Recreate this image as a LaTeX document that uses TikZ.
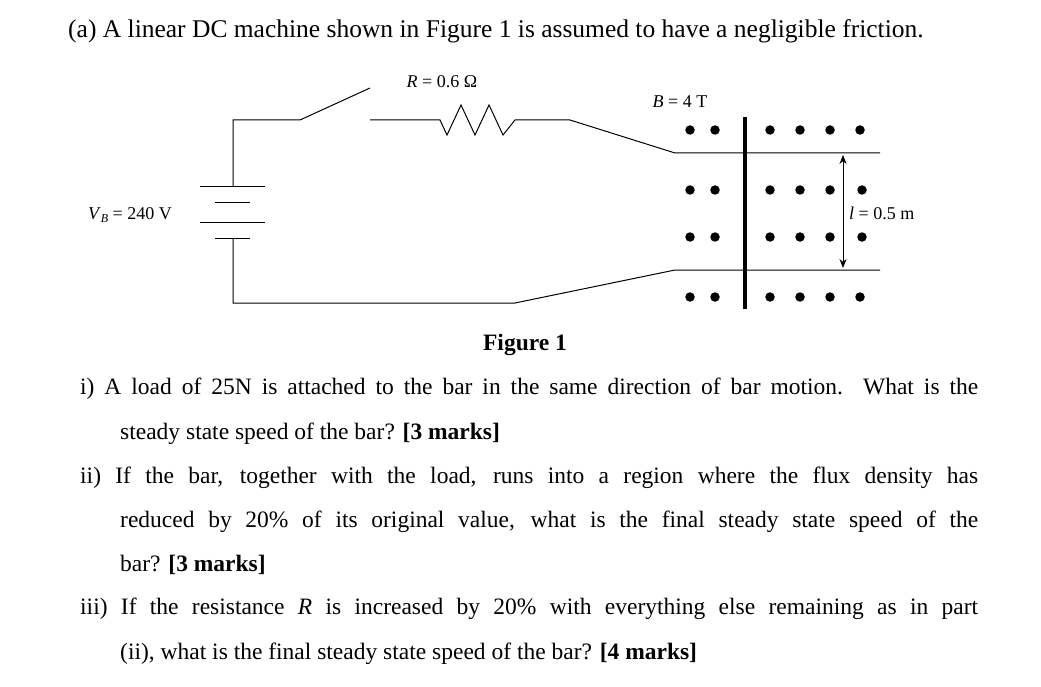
\documentclass[tikz,border=0pt]{standalone}
\usepackage{fontspec}
\setmainfont{Liberation Serif}
\usetikzlibrary{arrows.meta}
\begin{document}
\begin{tikzpicture}[x=1pt,y=-1pt,
  wire/.style={line width=1pt},
  dot/.style={circle,fill=black,inner sep=0pt,minimum size=9.5pt},
  lbl/.style={font=\fontsize{18}{20}\selectfont,inner sep=0pt},
  txt/.style={font=\fontsize{23.5}{26}\selectfont,inner sep=0pt,anchor=base west}]
\useasboundingbox (0,0) rectangle (1041,687);
\node[txt,font=\fontsize{25.5}{28}\selectfont] (title) at (68,38) {(a) A linear DC machine shown in Figure 1 is assumed to have a negligible friction.};
% circuit
\coordinate (tl) at (233,120); \coordinate (sw1) at (300,120); \coordinate (sw2) at (370,88);
\coordinate (r0) at (370,120); \coordinate (r1) at (440,120); \coordinate (r2) at (522,120);
\coordinate (r3) at (570,120); \coordinate (rt) at (675,153);
\coordinate (bt) at (233,187); \coordinate (bb) at (233,238);
\coordinate (bl) at (233,303); \coordinate (bm) at (515,303); \coordinate (rb) at (675,270);
\draw[wire] (bt) -- (tl) -- (sw1) -- (sw2);
\draw[wire] (r0) -- (r1) -- ++(7,15) -- ++(14,-30) -- ++(14,30) -- ++(14,-30) -- ++(14,30) -- ++(12,-15) -- (r2) -- (r3) -- (rt) -- (880,153);
\draw[wire] (bb) -- (bl) -- (bm) -- (rb) -- (880,270);
\draw[wire] (200,187) -- (265,187) (215,203) -- (250,203) (200,222) -- (265,222) (215,238) -- (250,238);
\draw[line width=4.5pt] (745,117) -- (745,309);
\foreach \y in {130,190,237,297}{\foreach \x in {690,715,770,800,830}{\node[dot] at (\x,\y) {};}}
\foreach \y in {130,297}{\node[dot] at (860,\y) {};}
\foreach \y in {190,237}{\node[dot] at (862,\y) {};}
\draw[wire,{Stealth[length=9pt,width=7pt]}-{Stealth[length=9pt,width=7pt]}] (843,155) -- (843,268);
\node[lbl] (R) at (442,82) {\textit{R} = 0.6 Ω};
\node[lbl] (B) at (680,102) {\textit{B} = 4 T};
\node[lbl] (V) at (130,215) {\textit{V}\raisebox{-0.3ex}{\fontsize{12}{12}\selectfont\textit{B}} = 240 V};
\node[lbl,anchor=west] (l) at (849,213) {\textit{l} = 0.5 m};
\node[txt,anchor=base,font=\fontsize{23.5}{26}\bfseries] (fig) at (525,350) {Figure 1};
% questions
\node[txt] (q1a) at (80,394) {\makebox[898pt][s]{i) A load of 25N is attached to the bar in the same direction of bar motion. What is the}};
\node[txt] (q1b) at (120,439) {steady state speed of the bar? \textbf{[3 marks]}};
\node[txt] (q2a) at (80,483) {\makebox[898pt][s]{ii) If the bar, together with the load, runs into a region where the flux density has}};
\node[txt] (q2b) at (120,527) {\makebox[858pt][s]{reduced by 20\% of its original value, what is the final steady state speed of the}};
\node[txt] (q2c) at (120,571) {bar? \textbf{[3 marks]}};
\node[txt] (q3a) at (80,614) {\makebox[898pt][s]{iii) If the resistance \textit{R} is increased by 20\% with everything else remaining as in part}};
\node[txt] (q3b) at (120,659) {(ii), what is the final steady state speed of the bar? \textbf{[4 marks]}};
\end{tikzpicture}
\end{document}
